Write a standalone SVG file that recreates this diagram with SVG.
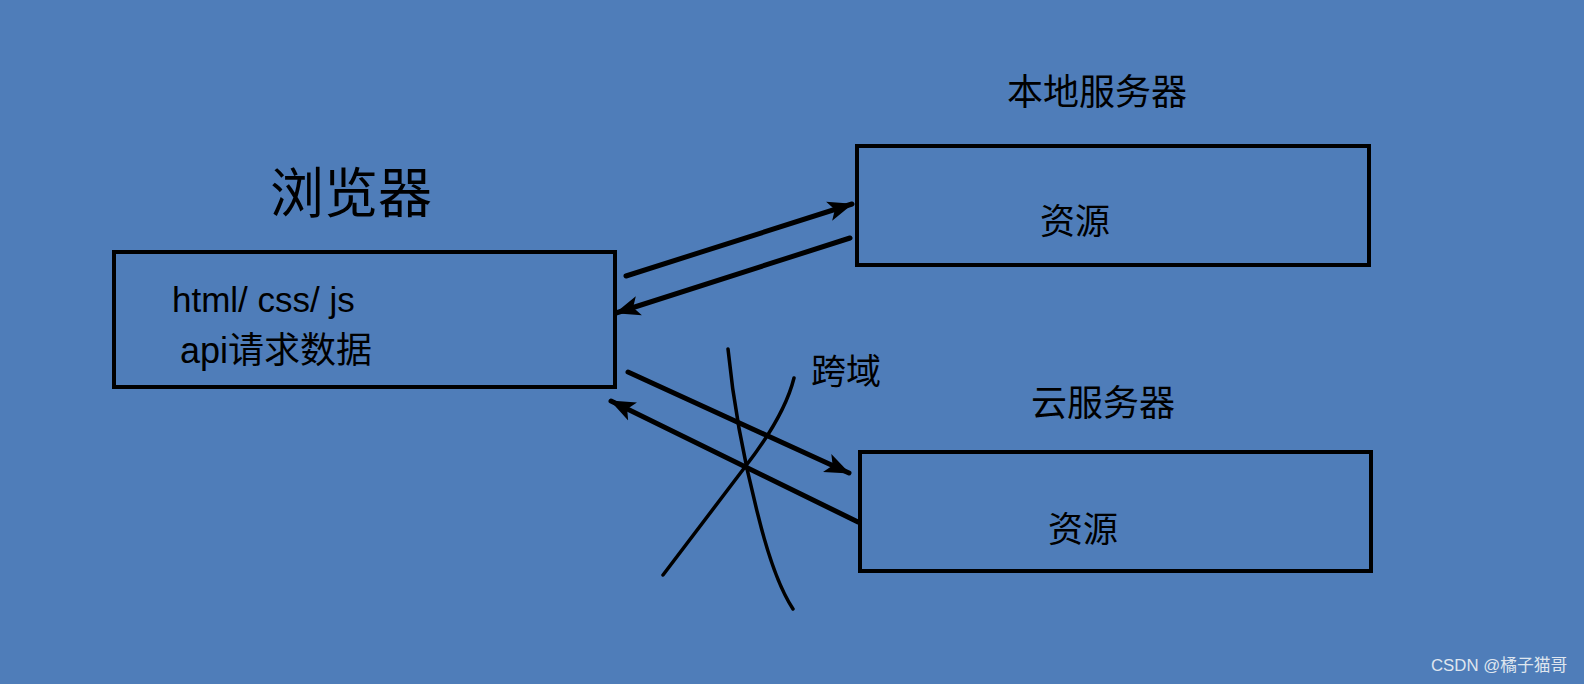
<svg xmlns="http://www.w3.org/2000/svg" width="1584" height="684" viewBox="0 0 1584 684">
<style>
.box{fill:none;stroke:#000;stroke-width:4}
.cjk{font-family:"Liberation Sans","Noto Sans CJK SC",sans-serif;fill:#000}
.conn{stroke:#000;stroke-width:5;stroke-linecap:round;fill:none}
.x{stroke:#000;stroke-width:3.5;stroke-linecap:round;fill:none}
.wm{font-family:"Liberation Sans","Noto Sans CJK SC",sans-serif;font-size:16.8px;fill:#dfe6ef}
</style>
<defs>
<marker id="ah" markerUnits="userSpaceOnUse" markerWidth="26" markerHeight="22" viewBox="0 0 26 22" refX="24" refY="11" orient="auto">
<path d="M0,1 L25,11 L0,21 L6,11 Z" fill="#000"/>
</marker>
</defs>
<rect width="1584" height="684" fill="#4f7db9"/>
<g id="browser">
<text class="cjk" x="270" y="213" font-size="54">浏览器</text>
<rect class="box" x="114" y="252" width="501" height="135"/>
<text class="cjk" x="172" y="312" font-size="35">html/ css/ js</text>
<text class="cjk" x="180" y="363" font-size="36">api请求数据</text>
</g>
<g id="local-server">
<text class="cjk" x="1007" y="105" font-size="36">本地服务器</text>
<rect class="box" x="857" y="146" width="512" height="119"/>
<text class="cjk" x="1040" y="234" font-size="35">资源</text>
</g>
<g id="cloud-server">
<text class="cjk" x="1031" y="416" font-size="36">云服务器</text>
<rect class="box" x="860" y="452" width="511" height="119"/>
<text class="cjk" x="1048" y="542" font-size="35">资源</text>
</g>
<g id="connectors">
<line class="conn" x1="626" y1="276" x2="852" y2="204" marker-end="url(#ah)"/>
<line class="conn" x1="850" y1="238" x2="616" y2="313" marker-end="url(#ah)"/>
<line class="conn" x1="628" y1="372" x2="849" y2="473" marker-end="url(#ah)"/>
<line class="conn" x1="858" y1="522" x2="611" y2="401" marker-end="url(#ah)"/>
</g>
<g id="cross">
<path class="x" d="M728,349 Q736,430 758,515 Q774,580 793,609"/>
<path class="x" d="M794,378 C786,410 766,440 745,467 L663,575"/>
<text class="cjk" x="811" y="384" font-size="35">跨域</text>
</g>
<text class="wm" x="1431" y="671">CSDN @橘子猫哥</text>
</svg>
